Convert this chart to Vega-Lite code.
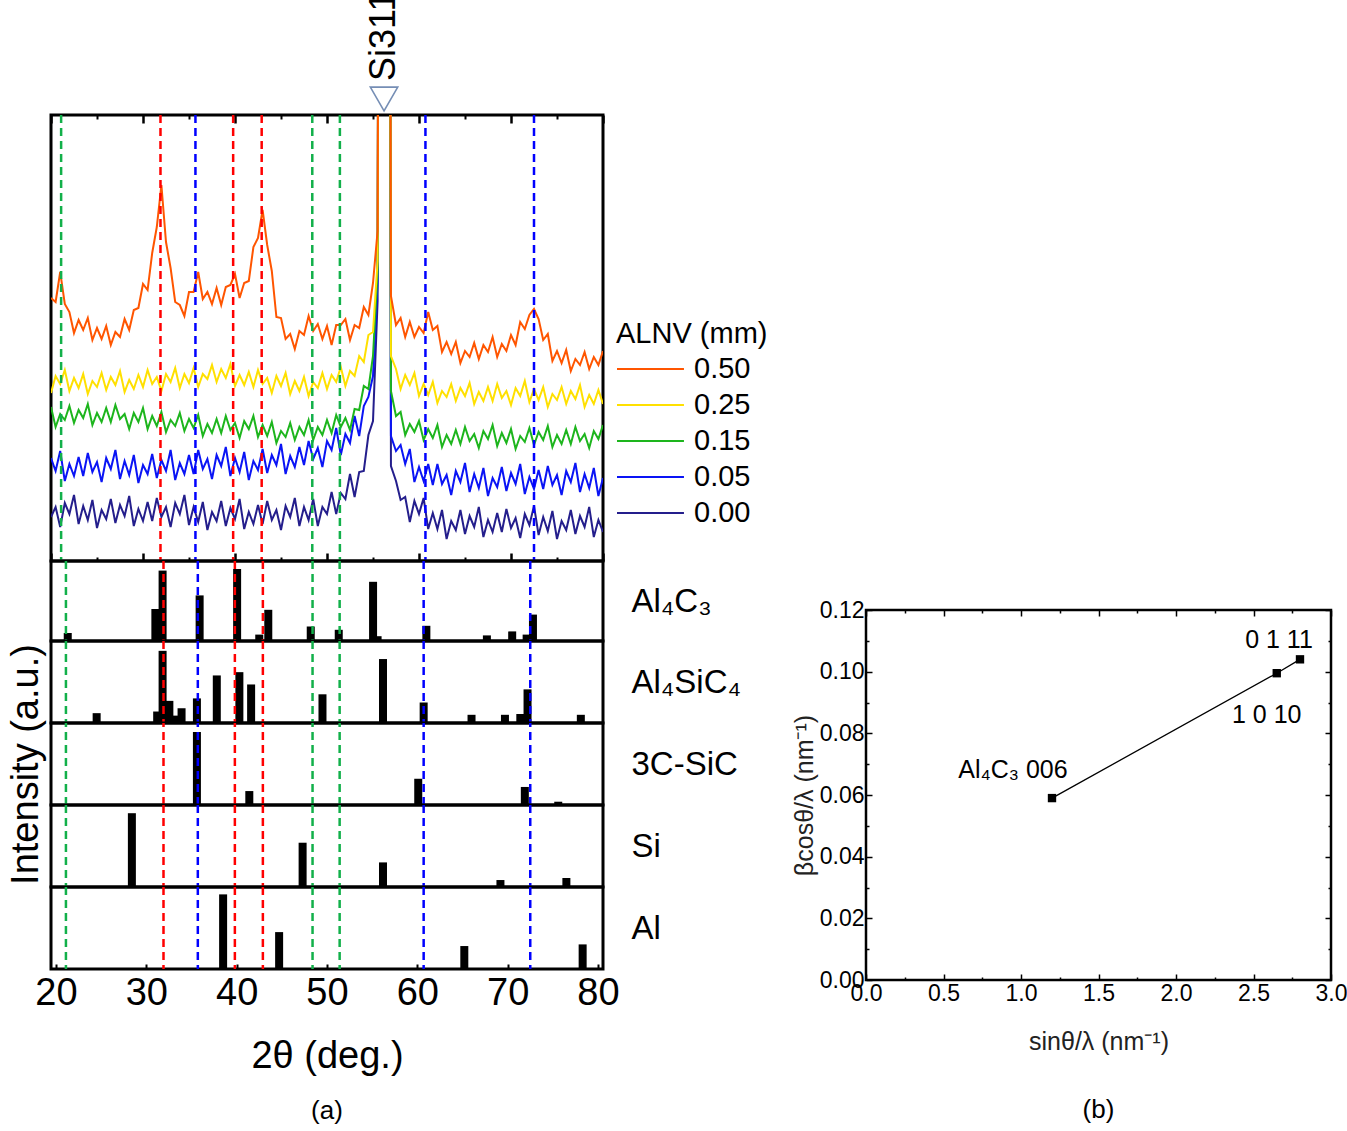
{
  "$schema": "https://vega.github.io/schema/vega-lite/v6.json",
  "padding": {"left": 5, "top": -10, "right": 0, "bottom": 0},
  "config": {
    "font": "Liberation Sans",
    "view": {"stroke": "black", "strokeWidth": 3},
    "axis": {"grid": false, "domain": false, "labelColor": "black", "titleColor": "black", "tickColor": "black", "titleFontWeight": "normal", "labelOverlap": false, "labelFlush": false},
    "title": {"fontWeight": "normal", "color": "black"}
  },
  "datasets": {
    "dash": [
      {"p": 21.1, "g": "g"}, {"p": 48.4, "g": "g"}, {"p": 51.4, "g": "g"},
      {"p": 31.9, "g": "r"}, {"p": 39.8, "g": "r"}, {"p": 42.9, "g": "r"},
      {"p": 35.7, "g": "b"}, {"p": 60.7, "g": "b"}, {"p": 72.5, "g": "b"}
    ],
    "bars": [
      {"ph": "Al4C3", "x": 21.3, "h": 0.10}, {"ph": "Al4C3", "x": 31.0, "h": 0.40}, {"ph": "Al4C3", "x": 31.8, "h": 0.88}, {"ph": "Al4C3", "x": 35.9, "h": 0.57}, {"ph": "Al4C3", "x": 40.05, "h": 0.90}, {"ph": "Al4C3", "x": 42.5, "h": 0.08}, {"ph": "Al4C3", "x": 43.5, "h": 0.39}, {"ph": "Al4C3", "x": 48.2, "h": 0.18}, {"ph": "Al4C3", "x": 51.3, "h": 0.14}, {"ph": "Al4C3", "x": 55.1, "h": 0.74}, {"ph": "Al4C3", "x": 55.6, "h": 0.06}, {"ph": "Al4C3", "x": 61.0, "h": 0.19}, {"ph": "Al4C3", "x": 67.7, "h": 0.07}, {"ph": "Al4C3", "x": 70.5, "h": 0.12}, {"ph": "Al4C3", "x": 72.1, "h": 0.08}, {"ph": "Al4C3", "x": 72.8, "h": 0.33},
      {"ph": "Al4SiC4", "x": 24.5, "h": 0.12}, {"ph": "Al4SiC4", "x": 31.2, "h": 0.14}, {"ph": "Al4SiC4", "x": 31.8, "h": 0.88}, {"ph": "Al4SiC4", "x": 32.55, "h": 0.27}, {"ph": "Al4SiC4", "x": 33.2, "h": 0.09}, {"ph": "Al4SiC4", "x": 33.9, "h": 0.18}, {"ph": "Al4SiC4", "x": 35.6, "h": 0.30}, {"ph": "Al4SiC4", "x": 37.8, "h": 0.58}, {"ph": "Al4SiC4", "x": 40.3, "h": 0.62}, {"ph": "Al4SiC4", "x": 41.6, "h": 0.47}, {"ph": "Al4SiC4", "x": 49.5, "h": 0.35}, {"ph": "Al4SiC4", "x": 56.2, "h": 0.78}, {"ph": "Al4SiC4", "x": 60.7, "h": 0.25}, {"ph": "Al4SiC4", "x": 66.0, "h": 0.10}, {"ph": "Al4SiC4", "x": 69.7, "h": 0.10}, {"ph": "Al4SiC4", "x": 71.4, "h": 0.11}, {"ph": "Al4SiC4", "x": 72.2, "h": 0.41}, {"ph": "Al4SiC4", "x": 78.1, "h": 0.10},
      {"ph": "3C-SiC", "x": 35.6, "h": 0.89}, {"ph": "3C-SiC", "x": 41.4, "h": 0.17}, {"ph": "3C-SiC", "x": 60.1, "h": 0.32}, {"ph": "3C-SiC", "x": 71.9, "h": 0.22}, {"ph": "3C-SiC", "x": 75.6, "h": 0.04},
      {"ph": "Si", "x": 28.4, "h": 0.90}, {"ph": "Si", "x": 47.3, "h": 0.54}, {"ph": "Si", "x": 56.2, "h": 0.30}, {"ph": "Si", "x": 69.2, "h": 0.085}, {"ph": "Si", "x": 76.5, "h": 0.11},
      {"ph": "Al", "x": 38.5, "h": 0.91}, {"ph": "Al", "x": 44.7, "h": 0.45}, {"ph": "Al", "x": 65.2, "h": 0.28}, {"ph": "Al", "x": 78.3, "h": 0.30}
    ],
    "wh": [
      {"x": 1.2, "y": 0.059, "lab": "Al₄C₃ 006"},
      {"x": 2.65, "y": 0.0995, "lab": "1 0 10"},
      {"x": 2.8, "y": 0.104, "lab": "0 1 11"}
    ],
    "xrd": [
{"s":"0.00","x":20,"y":44},{"s":"0.00","x":20.5,"y":54},{"s":"0.00","x":21,"y":34},{"s":"0.00","x":21.5,"y":58},{"s":"0.00","x":22,"y":47},{"s":"0.00","x":22.5,"y":66},{"s":"0.00","x":23,"y":37},{"s":"0.00","x":23.5,"y":55},{"s":"0.00","x":24,"y":41},{"s":"0.00","x":24.5,"y":61},{"s":"0.00","x":25,"y":33},{"s":"0.00","x":25.5,"y":51},{"s":"0.00","x":26,"y":42},{"s":"0.00","x":26.5,"y":62},{"s":"0.00","x":27,"y":38},{"s":"0.00","x":27.5,"y":56},{"s":"0.00","x":28,"y":45},{"s":"0.00","x":28.5,"y":65},{"s":"0.00","x":29,"y":35},{"s":"0.00","x":29.5,"y":52},{"s":"0.00","x":30,"y":40},{"s":"0.00","x":30.5,"y":59},{"s":"0.00","x":31,"y":40},{"s":"0.00","x":31.5,"y":63},{"s":"0.00","x":32,"y":44},{"s":"0.00","x":32.5,"y":54},{"s":"0.00","x":33,"y":34},{"s":"0.00","x":33.5,"y":58},{"s":"0.00","x":34,"y":47},{"s":"0.00","x":34.5,"y":66},{"s":"0.00","x":35,"y":36},{"s":"0.00","x":35.5,"y":54},{"s":"0.00","x":36,"y":39},{"s":"0.00","x":36.5,"y":59},{"s":"0.00","x":37,"y":31},{"s":"0.00","x":37.5,"y":49},{"s":"0.00","x":38,"y":40},{"s":"0.00","x":38.5,"y":60},{"s":"0.00","x":39,"y":35},{"s":"0.00","x":39.5,"y":53},{"s":"0.00","x":40,"y":42},{"s":"0.00","x":40.5,"y":62},{"s":"0.00","x":41,"y":32},{"s":"0.00","x":41.5,"y":49},{"s":"0.00","x":42,"y":37},{"s":"0.00","x":42.5,"y":56},{"s":"0.00","x":43,"y":37},{"s":"0.00","x":43.5,"y":60},{"s":"0.00","x":44,"y":41},{"s":"0.00","x":44.5,"y":51},{"s":"0.00","x":45,"y":31},{"s":"0.00","x":45.5,"y":55},{"s":"0.00","x":46,"y":44},{"s":"0.00","x":46.5,"y":63},{"s":"0.00","x":47,"y":35},{"s":"0.00","x":47.5,"y":54},{"s":"0.00","x":48,"y":41},{"s":"0.00","x":48.5,"y":62},{"s":"0.00","x":49,"y":35},{"s":"0.00","x":49.5,"y":54},{"s":"0.00","x":50,"y":47},{"s":"0.00","x":50.5,"y":69},{"s":"0.00","x":51,"y":47},{"s":"0.00","x":51.5,"y":68},{"s":"0.00","x":52,"y":62},{"s":"0.00","x":52.5,"y":87},{"s":"0.00","x":53,"y":64},{"s":"0.00","x":53.5,"y":89},{"s":"0.00","x":54,"y":90},{"s":"0.00","x":54.5,"y":126},{"s":"0.00","x":55,"y":140},{"s":"0.00","x":55.5,"y":260},{"s":"0.00","x":55.65,"y":900},{"s":"0.00","x":56.8,"y":900},{"s":"0.00","x":56.95,"y":95},{"s":"0.00","x":57.5,"y":80},{"s":"0.00","x":58,"y":61},{"s":"0.00","x":58.5,"y":64},{"s":"0.00","x":59,"y":39},{"s":"0.00","x":59.5,"y":60},{"s":"0.00","x":60,"y":47},{"s":"0.00","x":60.5,"y":63},{"s":"0.00","x":61,"y":32},{"s":"0.00","x":61.5,"y":48},{"s":"0.00","x":62,"y":32},{"s":"0.00","x":62.5,"y":51},{"s":"0.00","x":63,"y":22},{"s":"0.00","x":63.5,"y":40},{"s":"0.00","x":64,"y":31},{"s":"0.00","x":64.5,"y":51},{"s":"0.00","x":65,"y":27},{"s":"0.00","x":65.5,"y":45},{"s":"0.00","x":66,"y":34},{"s":"0.00","x":66.5,"y":54},{"s":"0.00","x":67,"y":24},{"s":"0.00","x":67.5,"y":41},{"s":"0.00","x":68,"y":29},{"s":"0.00","x":68.5,"y":48},{"s":"0.00","x":69,"y":29},{"s":"0.00","x":69.5,"y":52},{"s":"0.00","x":70,"y":33},{"s":"0.00","x":70.5,"y":43},{"s":"0.00","x":71,"y":23},{"s":"0.00","x":71.5,"y":47},{"s":"0.00","x":72,"y":36},{"s":"0.00","x":72.5,"y":55},{"s":"0.00","x":73,"y":26},{"s":"0.00","x":73.5,"y":44},{"s":"0.00","x":74,"y":30},{"s":"0.00","x":74.5,"y":50},{"s":"0.00","x":75,"y":22},{"s":"0.00","x":75.5,"y":40},{"s":"0.00","x":76,"y":31},{"s":"0.00","x":76.5,"y":51},{"s":"0.00","x":77,"y":27},{"s":"0.00","x":77.5,"y":45},{"s":"0.00","x":78,"y":34},{"s":"0.00","x":78.5,"y":54},{"s":"0.00","x":79,"y":24},{"s":"0.00","x":79.5,"y":41},{"s":"0.00","x":80,"y":29},
{"s":"0.05","x":20,"y":103},{"s":"0.05","x":20.5,"y":90},{"s":"0.05","x":21,"y":110},{"s":"0.05","x":21.5,"y":80},{"s":"0.05","x":22,"y":97},{"s":"0.05","x":22.5,"y":85},{"s":"0.05","x":23,"y":104},{"s":"0.05","x":23.5,"y":85},{"s":"0.05","x":24,"y":108},{"s":"0.05","x":24.5,"y":89},{"s":"0.05","x":25,"y":99},{"s":"0.05","x":25.5,"y":79},{"s":"0.05","x":26,"y":103},{"s":"0.05","x":26.5,"y":92},{"s":"0.05","x":27,"y":111},{"s":"0.05","x":27.5,"y":82},{"s":"0.05","x":28,"y":100},{"s":"0.05","x":28.5,"y":86},{"s":"0.05","x":29,"y":106},{"s":"0.05","x":29.5,"y":78},{"s":"0.05","x":30,"y":96},{"s":"0.05","x":30.5,"y":87},{"s":"0.05","x":31,"y":107},{"s":"0.05","x":31.5,"y":83},{"s":"0.05","x":32,"y":101},{"s":"0.05","x":32.5,"y":90},{"s":"0.05","x":33,"y":111},{"s":"0.05","x":33.5,"y":81},{"s":"0.05","x":34,"y":98},{"s":"0.05","x":34.5,"y":87},{"s":"0.05","x":35,"y":106},{"s":"0.05","x":35.5,"y":87},{"s":"0.05","x":36,"y":111},{"s":"0.05","x":36.5,"y":92},{"s":"0.05","x":37,"y":102},{"s":"0.05","x":37.5,"y":82},{"s":"0.05","x":38,"y":106},{"s":"0.05","x":38.5,"y":95},{"s":"0.05","x":39,"y":114},{"s":"0.05","x":39.5,"y":85},{"s":"0.05","x":40,"y":103},{"s":"0.05","x":40.5,"y":89},{"s":"0.05","x":41,"y":109},{"s":"0.05","x":41.5,"y":81},{"s":"0.05","x":42,"y":100},{"s":"0.05","x":42.5,"y":91},{"s":"0.05","x":43,"y":112},{"s":"0.05","x":43.5,"y":88},{"s":"0.05","x":44,"y":106},{"s":"0.05","x":44.5,"y":96},{"s":"0.05","x":45,"y":117},{"s":"0.05","x":45.5,"y":87},{"s":"0.05","x":46,"y":105},{"s":"0.05","x":46.5,"y":94},{"s":"0.05","x":47,"y":114},{"s":"0.05","x":47.5,"y":96},{"s":"0.05","x":48,"y":120},{"s":"0.05","x":48.5,"y":102},{"s":"0.05","x":49,"y":113},{"s":"0.05","x":49.5,"y":94},{"s":"0.05","x":50,"y":120},{"s":"0.05","x":50.5,"y":111},{"s":"0.05","x":51,"y":133},{"s":"0.05","x":51.5,"y":106},{"s":"0.05","x":52,"y":127},{"s":"0.05","x":52.5,"y":118},{"s":"0.05","x":53,"y":145},{"s":"0.05","x":53.5,"y":125},{"s":"0.05","x":54,"y":155},{"s":"0.05","x":54.5,"y":164},{"s":"0.05","x":55,"y":185},{"s":"0.05","x":55.5,"y":280},{"s":"0.05","x":55.65,"y":900},{"s":"0.05","x":56.8,"y":900},{"s":"0.05","x":56.95,"y":125},{"s":"0.05","x":57.5,"y":110},{"s":"0.05","x":58,"y":116},{"s":"0.05","x":58.5,"y":97},{"s":"0.05","x":59,"y":112},{"s":"0.05","x":59.5,"y":79},{"s":"0.05","x":60,"y":94},{"s":"0.05","x":60.5,"y":80},{"s":"0.05","x":61,"y":97},{"s":"0.05","x":61.5,"y":76},{"s":"0.05","x":62,"y":97},{"s":"0.05","x":62.5,"y":77},{"s":"0.05","x":63,"y":86},{"s":"0.05","x":63.5,"y":66},{"s":"0.05","x":64,"y":90},{"s":"0.05","x":64.5,"y":79},{"s":"0.05","x":65,"y":98},{"s":"0.05","x":65.5,"y":69},{"s":"0.05","x":66,"y":87},{"s":"0.05","x":66.5,"y":73},{"s":"0.05","x":67,"y":93},{"s":"0.05","x":67.5,"y":65},{"s":"0.05","x":68,"y":83},{"s":"0.05","x":68.5,"y":74},{"s":"0.05","x":69,"y":94},{"s":"0.05","x":69.5,"y":70},{"s":"0.05","x":70,"y":88},{"s":"0.05","x":70.5,"y":77},{"s":"0.05","x":71,"y":97},{"s":"0.05","x":71.5,"y":67},{"s":"0.05","x":72,"y":84},{"s":"0.05","x":72.5,"y":72},{"s":"0.05","x":73,"y":91},{"s":"0.05","x":73.5,"y":72},{"s":"0.05","x":74,"y":95},{"s":"0.05","x":74.5,"y":76},{"s":"0.05","x":75,"y":86},{"s":"0.05","x":75.5,"y":66},{"s":"0.05","x":76,"y":90},{"s":"0.05","x":76.5,"y":79},{"s":"0.05","x":77,"y":98},{"s":"0.05","x":77.5,"y":69},{"s":"0.05","x":78,"y":87},{"s":"0.05","x":78.5,"y":73},{"s":"0.05","x":79,"y":93},{"s":"0.05","x":79.5,"y":65},{"s":"0.05","x":80,"y":83},
{"s":"0.15","x":20,"y":154},{"s":"0.15","x":20.5,"y":134},{"s":"0.15","x":21,"y":147},{"s":"0.15","x":21.5,"y":141},{"s":"0.15","x":22,"y":155},{"s":"0.15","x":22.5,"y":138},{"s":"0.15","x":23,"y":151},{"s":"0.15","x":23.5,"y":143},{"s":"0.15","x":24,"y":157},{"s":"0.15","x":24.5,"y":136},{"s":"0.15","x":25,"y":148},{"s":"0.15","x":25.5,"y":139},{"s":"0.15","x":26,"y":153},{"s":"0.15","x":26.5,"y":139},{"s":"0.15","x":27,"y":156},{"s":"0.15","x":27.5,"y":142},{"s":"0.15","x":28,"y":147},{"s":"0.15","x":28.5,"y":132},{"s":"0.15","x":29,"y":148},{"s":"0.15","x":29.5,"y":139},{"s":"0.15","x":30,"y":153},{"s":"0.15","x":30.5,"y":132},{"s":"0.15","x":31,"y":145},{"s":"0.15","x":31.5,"y":135},{"s":"0.15","x":32,"y":149},{"s":"0.15","x":32.5,"y":129},{"s":"0.15","x":33,"y":141},{"s":"0.15","x":33.5,"y":135},{"s":"0.15","x":34,"y":148},{"s":"0.15","x":34.5,"y":130},{"s":"0.15","x":35,"y":142},{"s":"0.15","x":35.5,"y":133},{"s":"0.15","x":36,"y":146},{"s":"0.15","x":36.5,"y":125},{"s":"0.15","x":37,"y":137},{"s":"0.15","x":37.5,"y":128},{"s":"0.15","x":38,"y":142},{"s":"0.15","x":38.5,"y":128},{"s":"0.15","x":39,"y":145},{"s":"0.15","x":39.5,"y":131},{"s":"0.15","x":40,"y":138},{"s":"0.15","x":40.5,"y":123},{"s":"0.15","x":41,"y":140},{"s":"0.15","x":41.5,"y":132},{"s":"0.15","x":42,"y":145},{"s":"0.15","x":42.5,"y":124},{"s":"0.15","x":43,"y":136},{"s":"0.15","x":43.5,"y":125},{"s":"0.15","x":44,"y":139},{"s":"0.15","x":44.5,"y":118},{"s":"0.15","x":45,"y":130},{"s":"0.15","x":45.5,"y":124},{"s":"0.15","x":46,"y":138},{"s":"0.15","x":46.5,"y":121},{"s":"0.15","x":47,"y":134},{"s":"0.15","x":47.5,"y":126},{"s":"0.15","x":48,"y":141},{"s":"0.15","x":48.5,"y":121},{"s":"0.15","x":49,"y":134},{"s":"0.15","x":49.5,"y":126},{"s":"0.15","x":50,"y":141},{"s":"0.15","x":50.5,"y":128},{"s":"0.15","x":51,"y":146},{"s":"0.15","x":51.5,"y":134},{"s":"0.15","x":52,"y":143},{"s":"0.15","x":52.5,"y":131},{"s":"0.15","x":53,"y":152},{"s":"0.15","x":53.5,"y":151},{"s":"0.15","x":54,"y":175},{"s":"0.15","x":54.5,"y":172},{"s":"0.15","x":55,"y":205},{"s":"0.15","x":55.5,"y":290},{"s":"0.15","x":55.65,"y":900},{"s":"0.15","x":56.8,"y":900},{"s":"0.15","x":56.95,"y":170},{"s":"0.15","x":57.5,"y":145},{"s":"0.15","x":58,"y":149},{"s":"0.15","x":58.5,"y":126},{"s":"0.15","x":59,"y":137},{"s":"0.15","x":59.5,"y":129},{"s":"0.15","x":60,"y":140},{"s":"0.15","x":60.5,"y":121},{"s":"0.15","x":61,"y":132},{"s":"0.15","x":61.5,"y":123},{"s":"0.15","x":62,"y":136},{"s":"0.15","x":62.5,"y":114},{"s":"0.15","x":63,"y":126},{"s":"0.15","x":63.5,"y":117},{"s":"0.15","x":64,"y":131},{"s":"0.15","x":64.5,"y":117},{"s":"0.15","x":65,"y":134},{"s":"0.15","x":65.5,"y":120},{"s":"0.15","x":66,"y":127},{"s":"0.15","x":66.5,"y":113},{"s":"0.15","x":67,"y":130},{"s":"0.15","x":67.5,"y":122},{"s":"0.15","x":68,"y":136},{"s":"0.15","x":68.5,"y":115},{"s":"0.15","x":69,"y":128},{"s":"0.15","x":69.5,"y":118},{"s":"0.15","x":70,"y":132},{"s":"0.15","x":70.5,"y":112},{"s":"0.15","x":71,"y":125},{"s":"0.15","x":71.5,"y":119},{"s":"0.15","x":72,"y":133},{"s":"0.15","x":72.5,"y":116},{"s":"0.15","x":73,"y":129},{"s":"0.15","x":73.5,"y":121},{"s":"0.15","x":74,"y":135},{"s":"0.15","x":74.5,"y":114},{"s":"0.15","x":75,"y":126},{"s":"0.15","x":75.5,"y":117},{"s":"0.15","x":76,"y":131},{"s":"0.15","x":76.5,"y":117},{"s":"0.15","x":77,"y":134},{"s":"0.15","x":77.5,"y":120},{"s":"0.15","x":78,"y":127},{"s":"0.15","x":78.5,"y":113},{"s":"0.15","x":79,"y":130},{"s":"0.15","x":79.5,"y":122},{"s":"0.15","x":80,"y":136},
{"s":"0.25","x":20,"y":168},{"s":"0.25","x":20.5,"y":185},{"s":"0.25","x":21,"y":177},{"s":"0.25","x":21.5,"y":191},{"s":"0.25","x":22,"y":170},{"s":"0.25","x":22.5,"y":183},{"s":"0.25","x":23,"y":173},{"s":"0.25","x":23.5,"y":187},{"s":"0.25","x":24,"y":167},{"s":"0.25","x":24.5,"y":180},{"s":"0.25","x":25,"y":174},{"s":"0.25","x":25.5,"y":188},{"s":"0.25","x":26,"y":171},{"s":"0.25","x":26.5,"y":184},{"s":"0.25","x":27,"y":176},{"s":"0.25","x":27.5,"y":190},{"s":"0.25","x":28,"y":169},{"s":"0.25","x":28.5,"y":181},{"s":"0.25","x":29,"y":172},{"s":"0.25","x":29.5,"y":186},{"s":"0.25","x":30,"y":174},{"s":"0.25","x":30.5,"y":191},{"s":"0.25","x":31,"y":177},{"s":"0.25","x":31.5,"y":184},{"s":"0.25","x":32,"y":170},{"s":"0.25","x":32.5,"y":187},{"s":"0.25","x":33,"y":179},{"s":"0.25","x":33.5,"y":193},{"s":"0.25","x":34,"y":173},{"s":"0.25","x":34.5,"y":187},{"s":"0.25","x":35,"y":178},{"s":"0.25","x":35.5,"y":193},{"s":"0.25","x":36,"y":174},{"s":"0.25","x":36.5,"y":187},{"s":"0.25","x":37,"y":182},{"s":"0.25","x":37.5,"y":196},{"s":"0.25","x":38,"y":179},{"s":"0.25","x":38.5,"y":192},{"s":"0.25","x":39,"y":183},{"s":"0.25","x":39.5,"y":197},{"s":"0.25","x":40,"y":175},{"s":"0.25","x":40.5,"y":186},{"s":"0.25","x":41,"y":176},{"s":"0.25","x":41.5,"y":189},{"s":"0.25","x":42,"y":174},{"s":"0.25","x":42.5,"y":191},{"s":"0.25","x":43,"y":177},{"s":"0.25","x":43.5,"y":183},{"s":"0.25","x":44,"y":168},{"s":"0.25","x":44.5,"y":185},{"s":"0.25","x":45,"y":175},{"s":"0.25","x":45.5,"y":188},{"s":"0.25","x":46,"y":167},{"s":"0.25","x":46.5,"y":180},{"s":"0.25","x":47,"y":170},{"s":"0.25","x":47.5,"y":184},{"s":"0.25","x":48,"y":165},{"s":"0.25","x":48.5,"y":179},{"s":"0.25","x":49,"y":173},{"s":"0.25","x":49.5,"y":188},{"s":"0.25","x":50,"y":172},{"s":"0.25","x":50.5,"y":186},{"s":"0.25","x":51,"y":179},{"s":"0.25","x":51.5,"y":194},{"s":"0.25","x":52,"y":175},{"s":"0.25","x":52.5,"y":190},{"s":"0.25","x":53,"y":185},{"s":"0.25","x":53.5,"y":205},{"s":"0.25","x":54,"y":199},{"s":"0.25","x":54.5,"y":226},{"s":"0.25","x":55,"y":229},{"s":"0.25","x":55.5,"y":300},{"s":"0.25","x":55.65,"y":900},{"s":"0.25","x":56.8,"y":900},{"s":"0.25","x":56.95,"y":205},{"s":"0.25","x":57.5,"y":192},{"s":"0.25","x":58,"y":172},{"s":"0.25","x":58.5,"y":186},{"s":"0.25","x":59,"y":176},{"s":"0.25","x":59.5,"y":188},{"s":"0.25","x":60,"y":165},{"s":"0.25","x":60.5,"y":177},{"s":"0.25","x":61,"y":166},{"s":"0.25","x":61.5,"y":179},{"s":"0.25","x":62,"y":158},{"s":"0.25","x":62.5,"y":170},{"s":"0.25","x":63,"y":164},{"s":"0.25","x":63.5,"y":177},{"s":"0.25","x":64,"y":160},{"s":"0.25","x":64.5,"y":173},{"s":"0.25","x":65,"y":165},{"s":"0.25","x":65.5,"y":178},{"s":"0.25","x":66,"y":157},{"s":"0.25","x":66.5,"y":169},{"s":"0.25","x":67,"y":160},{"s":"0.25","x":67.5,"y":174},{"s":"0.25","x":68,"y":160},{"s":"0.25","x":68.5,"y":177},{"s":"0.25","x":69,"y":163},{"s":"0.25","x":69.5,"y":170},{"s":"0.25","x":70,"y":156},{"s":"0.25","x":70.5,"y":173},{"s":"0.25","x":71,"y":165},{"s":"0.25","x":71.5,"y":180},{"s":"0.25","x":72,"y":159},{"s":"0.25","x":72.5,"y":172},{"s":"0.25","x":73,"y":161},{"s":"0.25","x":73.5,"y":174},{"s":"0.25","x":74,"y":154},{"s":"0.25","x":74.5,"y":167},{"s":"0.25","x":75,"y":161},{"s":"0.25","x":75.5,"y":174},{"s":"0.25","x":76,"y":157},{"s":"0.25","x":76.5,"y":170},{"s":"0.25","x":77,"y":162},{"s":"0.25","x":77.5,"y":176},{"s":"0.25","x":78,"y":154},{"s":"0.25","x":78.5,"y":166},{"s":"0.25","x":79,"y":157},{"s":"0.25","x":79.5,"y":171},{"s":"0.25","x":80,"y":157},
{"s":"0.50","x":20,"y":263},{"s":"0.50","x":20.5,"y":259},{"s":"0.50","x":21,"y":289},{"s":"0.50","x":21.5,"y":257},{"s":"0.50","x":22,"y":249},{"s":"0.50","x":22.5,"y":228},{"s":"0.50","x":23,"y":241},{"s":"0.50","x":23.5,"y":231},{"s":"0.50","x":24,"y":243},{"s":"0.50","x":24.5,"y":221},{"s":"0.50","x":25,"y":233},{"s":"0.50","x":25.5,"y":222},{"s":"0.50","x":26,"y":235},{"s":"0.50","x":26.5,"y":216},{"s":"0.50","x":27,"y":229},{"s":"0.50","x":27.5,"y":224},{"s":"0.50","x":28,"y":242},{"s":"0.50","x":28.5,"y":231},{"s":"0.50","x":29,"y":251},{"s":"0.50","x":29.5,"y":253},{"s":"0.50","x":30,"y":277},{"s":"0.50","x":30.5,"y":271},{"s":"0.50","x":31,"y":308},{"s":"0.50","x":31.5,"y":334},{"s":"0.50","x":32,"y":376},{"s":"0.50","x":32.5,"y":319},{"s":"0.50","x":33,"y":293},{"s":"0.50","x":33.5,"y":259},{"s":"0.50","x":34,"y":256},{"s":"0.50","x":34.5,"y":245},{"s":"0.50","x":35,"y":269},{"s":"0.50","x":35.5,"y":269},{"s":"0.50","x":36,"y":289},{"s":"0.50","x":36.5,"y":262},{"s":"0.50","x":37,"y":269},{"s":"0.50","x":37.5,"y":257},{"s":"0.50","x":38,"y":273},{"s":"0.50","x":38.5,"y":256},{"s":"0.50","x":39,"y":274},{"s":"0.50","x":39.5,"y":276},{"s":"0.50","x":40,"y":287},{"s":"0.50","x":40.5,"y":263},{"s":"0.50","x":41,"y":278},{"s":"0.50","x":41.5,"y":280},{"s":"0.50","x":42,"y":314},{"s":"0.50","x":42.5,"y":323},{"s":"0.50","x":43,"y":351},{"s":"0.50","x":43.5,"y":316},{"s":"0.50","x":44,"y":290},{"s":"0.50","x":44.5,"y":244},{"s":"0.50","x":45,"y":243},{"s":"0.50","x":45.5,"y":222},{"s":"0.50","x":46,"y":227},{"s":"0.50","x":46.5,"y":212},{"s":"0.50","x":47,"y":230},{"s":"0.50","x":47.5,"y":226},{"s":"0.50","x":48,"y":245},{"s":"0.50","x":48.5,"y":230},{"s":"0.50","x":49,"y":237},{"s":"0.50","x":49.5,"y":222},{"s":"0.50","x":50,"y":235},{"s":"0.50","x":50.5,"y":216},{"s":"0.50","x":51,"y":236},{"s":"0.50","x":51.5,"y":236},{"s":"0.50","x":52,"y":242},{"s":"0.50","x":52.5,"y":221},{"s":"0.50","x":53,"y":236},{"s":"0.50","x":53.5,"y":233},{"s":"0.50","x":54,"y":254},{"s":"0.50","x":54.5,"y":246},{"s":"0.50","x":55,"y":278},{"s":"0.50","x":55.5,"y":330},{"s":"0.50","x":55.65,"y":900},{"s":"0.50","x":56.8,"y":900},{"s":"0.50","x":56.95,"y":265},{"s":"0.50","x":57.5,"y":236},{"s":"0.50","x":58,"y":243},{"s":"0.50","x":58.5,"y":224},{"s":"0.50","x":59,"y":239},{"s":"0.50","x":59.5,"y":224},{"s":"0.50","x":60,"y":234},{"s":"0.50","x":60.5,"y":228},{"s":"0.50","x":61,"y":249},{"s":"0.50","x":61.5,"y":231},{"s":"0.50","x":62,"y":235},{"s":"0.50","x":62.5,"y":209},{"s":"0.50","x":63,"y":219},{"s":"0.50","x":63.5,"y":207},{"s":"0.50","x":64,"y":219},{"s":"0.50","x":64.5,"y":198},{"s":"0.50","x":65,"y":210},{"s":"0.50","x":65.5,"y":204},{"s":"0.50","x":66,"y":218},{"s":"0.50","x":66.5,"y":202},{"s":"0.50","x":67,"y":216},{"s":"0.50","x":67.5,"y":209},{"s":"0.50","x":68,"y":224},{"s":"0.50","x":68.5,"y":204},{"s":"0.50","x":69,"y":217},{"s":"0.50","x":69.5,"y":210},{"s":"0.50","x":70,"y":226},{"s":"0.50","x":70.5,"y":216},{"s":"0.50","x":71,"y":239},{"s":"0.50","x":71.5,"y":232},{"s":"0.50","x":72,"y":246},{"s":"0.50","x":72.5,"y":252},{"s":"0.50","x":73,"y":242},{"s":"0.50","x":73.5,"y":221},{"s":"0.50","x":74,"y":227},{"s":"0.50","x":74.5,"y":200},{"s":"0.50","x":75,"y":210},{"s":"0.50","x":75.5,"y":198},{"s":"0.50","x":76,"y":211},{"s":"0.50","x":76.5,"y":190},{"s":"0.50","x":77,"y":202},{"s":"0.50","x":77.5,"y":196},{"s":"0.50","x":78,"y":209},{"s":"0.50","x":78.5,"y":192},{"s":"0.50","x":79,"y":204},{"s":"0.50","x":79.5,"y":196},{"s":"0.50","x":80,"y":210}
    ]
  },
  "spacing": 815,
  "bounds": "flush",
  "resolve": {"scale": {"color": "independent"}, "legend": {"color": "independent"}},
  "hconcat": [
    {
      "spacing": 0,
      "bounds": "flush",
      "resolve": {"scale": {"color": "independent"}, "legend": {"color": "independent"}},
      "vconcat": [
        {
          "width": 552, "height": 446,
          "resolve": {"axis": {"x": "independent"}},
          "layer": [
            {
              "data": {"name": "xrd"},
              "mark": {"type": "line", "clip": true, "strokeWidth": 2},
              "encoding": {
                "x": {"field": "x", "type": "quantitative", "scale": {"domain": [20, 80], "nice": false, "zero": false},
                      "axis": {"orient": "bottom", "values": [20, 30, 40, 50, 60, 70, 80], "labels": false, "tickSize": -8, "tickWidth": 2.5, "title": null}},
                "y": {"field": "y", "type": "quantitative", "scale": {"domain": [0, 446], "nice": false, "zero": false},
                      "axis": {"title": "Intensity (a.u.)", "labels": false, "ticks": false, "titleFontSize": 38, "titlePadding": 6}},
                "color": {"field": "s", "type": "nominal",
                          "scale": {"domain": ["0.50", "0.25", "0.15", "0.05", "0.00"], "range": ["#FF5500", "#FFE000", "#1DB51D", "#0A14F5", "#241E8C"]},
                          "legend": {"orient": "none", "legendX": 565, "legendY": 205, "title": "ALNV (mm)", "titleFontSize": 29, "titleFontWeight": "normal", "titleColor": "black", "labelFontSize": 29, "labelColor": "black", "symbolType": "M-1,0H2.72", "symbolSize": 1296, "symbolStrokeWidth": 2, "symbolFillColor": "transparent", "labelOffset": 40, "rowPadding": 2, "titlePadding": 1, "padding": 0}}
              }
            },
            {
              "data": {"name": "dash"},
              "mark": {"type": "rule", "strokeDash": [8, 5], "strokeWidth": 2.5},
              "encoding": {
                "x": {"field": "p", "type": "quantitative", "axis": {"orient": "top", "values": [20, 30, 40, 50, 60, 70, 80], "labels": false, "tickSize": -8, "tickWidth": 2.5, "title": null}},
                "stroke": {"field": "g", "type": "nominal", "scale": {"domain": ["g", "r", "b"], "range": ["#12B04A", "#FF0000", "#0000FF"]}, "legend": null}
              }
            },
            {
              "data": {"values": [{"x": 56.2}]},
              "mark": {"type": "point", "shape": "triangle-down", "size": 750, "filled": false, "stroke": "#3C5F96", "strokeWidth": 1.6, "clip": false},
              "encoding": {
                "x": {"field": "x", "type": "quantitative", "axis": {"orient": "bottom", "values": [25, 35, 45, 55, 65, 75], "labels": false, "tickSize": -4, "tickWidth": 2, "title": null}},
                "y": {"datum": 462, "axis": null}
              }
            },
            {
              "data": {"values": [{"x": 56.2, "t": "Si311"}]},
              "mark": {"type": "text", "angle": 270, "align": "left", "baseline": "middle", "fontSize": 36, "clip": false},
              "encoding": {
                "x": {"field": "x", "type": "quantitative", "axis": {"orient": "top", "values": [25, 35, 45, 55, 65, 75], "labels": false, "tickSize": -4, "tickWidth": 2, "title": null}},
                "y": {"datum": 480, "axis": null},
                "text": {"field": "t"}
              }
            }
          ]
        },
        {
          "width": 552, "height": 80,
          "resolve": {"axis": {"y": "independent"}},
          "layer": [
            {
              "data": {"name": "bars"},
              "transform": [{"filter": "datum.ph === 'Al4C3'"}],
              "mark": {"type": "bar", "size": 8, "color": "black"},
              "encoding": {
                "x": {"field": "x", "type": "quantitative", "scale": {"domain": [20, 80], "nice": false, "zero": false}, "axis": null},
                "y": {"field": "h", "type": "quantitative", "scale": {"domain": [0, 1], "nice": false}, "axis": {"orient": "right", "title": "Al₄C₃", "labels": false, "ticks": false, "titleAngle": 0, "titleAlign": "left", "titleBaseline": "middle", "titleFontSize": 33, "titlePadding": 28}}
              }
            },
            {
              "data": {"name": "dash"},
              "mark": {"type": "rule", "strokeDash": [8, 5], "strokeWidth": 2.5},
              "encoding": {
                "x": {"field": "p", "type": "quantitative", "axis": null},
                "stroke": {"field": "g", "type": "nominal", "scale": {"domain": ["g", "r", "b"], "range": ["#12B04A", "#FF0000", "#0000FF"]}, "legend": null}
              }
            }
          ]
        },
        {
          "width": 552, "height": 82,
          "resolve": {"axis": {"y": "independent"}},
          "layer": [
            {
              "data": {"name": "bars"},
              "transform": [{"filter": "datum.ph === 'Al4SiC4'"}],
              "mark": {"type": "bar", "size": 8, "color": "black"},
              "encoding": {
                "x": {"field": "x", "type": "quantitative", "scale": {"domain": [20, 80], "nice": false, "zero": false}, "axis": null},
                "y": {"field": "h", "type": "quantitative", "scale": {"domain": [0, 1], "nice": false}, "axis": {"orient": "right", "title": "Al₄SiC₄", "labels": false, "ticks": false, "titleAngle": 0, "titleAlign": "left", "titleBaseline": "middle", "titleFontSize": 33, "titlePadding": 28}}
              }
            },
            {
              "data": {"name": "dash"},
              "mark": {"type": "rule", "strokeDash": [8, 5], "strokeWidth": 2.5},
              "encoding": {
                "x": {"field": "p", "type": "quantitative", "axis": null},
                "stroke": {"field": "g", "type": "nominal", "scale": {"domain": ["g", "r", "b"], "range": ["#12B04A", "#FF0000", "#0000FF"]}, "legend": null}
              }
            }
          ]
        },
        {
          "width": 552, "height": 82,
          "resolve": {"axis": {"y": "independent"}},
          "layer": [
            {
              "data": {"name": "bars"},
              "transform": [{"filter": "datum.ph === '3C-SiC'"}],
              "mark": {"type": "bar", "size": 8, "color": "black"},
              "encoding": {
                "x": {"field": "x", "type": "quantitative", "scale": {"domain": [20, 80], "nice": false, "zero": false}, "axis": null},
                "y": {"field": "h", "type": "quantitative", "scale": {"domain": [0, 1], "nice": false}, "axis": {"orient": "right", "title": "3C-SiC", "labels": false, "ticks": false, "titleAngle": 0, "titleAlign": "left", "titleBaseline": "middle", "titleFontSize": 33, "titlePadding": 28}}
              }
            },
            {
              "data": {"name": "dash"},
              "mark": {"type": "rule", "strokeDash": [8, 5], "strokeWidth": 2.5},
              "encoding": {
                "x": {"field": "p", "type": "quantitative", "axis": null},
                "y": {"datum": 0, "axis": {"title": "Intensity (a.u.)", "labels": false, "ticks": false, "titleFontSize": 38, "titlePadding": 6}},
                "y2": {"datum": 1},
                "stroke": {"field": "g", "type": "nominal", "scale": {"domain": ["g", "r", "b"], "range": ["#12B04A", "#FF0000", "#0000FF"]}, "legend": null}
              }
            }
          ]
        },
        {
          "width": 552, "height": 82,
          "resolve": {"axis": {"y": "independent"}},
          "layer": [
            {
              "data": {"name": "bars"},
              "transform": [{"filter": "datum.ph === 'Si'"}],
              "mark": {"type": "bar", "size": 8, "color": "black"},
              "encoding": {
                "x": {"field": "x", "type": "quantitative", "scale": {"domain": [20, 80], "nice": false, "zero": false}, "axis": null},
                "y": {"field": "h", "type": "quantitative", "scale": {"domain": [0, 1], "nice": false}, "axis": {"orient": "right", "title": "Si", "labels": false, "ticks": false, "titleAngle": 0, "titleAlign": "left", "titleBaseline": "middle", "titleFontSize": 33, "titlePadding": 28}}
              }
            },
            {
              "data": {"name": "dash"},
              "mark": {"type": "rule", "strokeDash": [8, 5], "strokeWidth": 2.5},
              "encoding": {
                "x": {"field": "p", "type": "quantitative", "axis": null},
                "stroke": {"field": "g", "type": "nominal", "scale": {"domain": ["g", "r", "b"], "range": ["#12B04A", "#FF0000", "#0000FF"]}, "legend": null}
              }
            }
          ]
        },
        {
          "width": 552, "height": 82,
          "title": {"text": "(a)", "orient": "bottom", "fontSize": 26, "fontWeight": "normal", "offset": 23},
          "resolve": {"axis": {"y": "independent"}},
          "layer": [
            {
              "data": {"name": "bars"},
              "transform": [{"filter": "datum.ph === 'Al'"}],
              "mark": {"type": "bar", "size": 8, "color": "black"},
              "encoding": {
                "x": {"field": "x", "type": "quantitative", "scale": {"domain": [20, 80], "nice": false, "zero": false},
                      "axis": {"orient": "bottom", "values": [20, 30, 40, 50, 60, 70, 80], "tickSize": -5, "tickWidth": 2, "labelFontSize": 38, "labelPadding": 10, "title": "2θ (deg.)", "titleFontSize": 38, "titlePadding": 25}},
                "y": {"field": "h", "type": "quantitative", "scale": {"domain": [0, 1], "nice": false}, "axis": {"orient": "right", "title": "Al", "labels": false, "ticks": false, "titleAngle": 0, "titleAlign": "left", "titleBaseline": "middle", "titleFontSize": 33, "titlePadding": 28}}
              }
            },
            {
              "data": {"name": "dash"},
              "mark": {"type": "rule", "strokeDash": [8, 5], "strokeWidth": 2.5},
              "encoding": {
                "x": {"field": "p", "type": "quantitative"},
                "stroke": {"field": "g", "type": "nominal", "scale": {"domain": ["g", "r", "b"], "range": ["#12B04A", "#FF0000", "#0000FF"]}, "legend": null}
              }
            }
          ]
        }
      ]
    },
    {
      "spacing": 0,
      "bounds": "flush",
      "vconcat": [
        {
          "width": 465, "height": 495,
          "view": {"stroke": "transparent"},
          "data": {"values": [{}]},
          "mark": {"type": "point", "opacity": 0},
          "encoding": {}
        },
        {
          "width": 465, "height": 370,
          "view": {"stroke": "black", "strokeWidth": 2.5},
          "title": {"text": "(b)", "orient": "bottom", "fontSize": 26, "fontWeight": "normal", "offset": 43},
          "data": {"name": "wh"},
          "resolve": {"axis": {"x": "independent", "y": "independent"}},
          "layer": [
            {
              "mark": {"type": "line", "color": "black", "strokeWidth": 1.3},
              "encoding": {
                "x": {"field": "x", "type": "quantitative", "scale": {"domain": [0, 3], "nice": false, "zero": false},
                      "axis": {"orient": "bottom", "values": [0, 0.5, 1, 1.5, 2, 2.5, 3], "format": ".1f", "tickSize": -6, "tickWidth": 1.5, "labelFontSize": 23, "labelPadding": 8, "title": "sinθ/λ (nm⁻¹)", "titleFontSize": 25, "titleColor": "#222", "titlePadding": 24}},
                "y": {"field": "y", "type": "quantitative", "scale": {"domain": [0, 0.12], "nice": false},
                      "axis": {"orient": "left", "values": [0, 0.02, 0.04, 0.06, 0.08, 0.1, 0.12], "format": ".2f", "tickSize": -6, "tickWidth": 1.5, "labelFontSize": 23, "labelPadding": 8, "title": "βcosθ/λ (nm⁻¹)", "titleFontSize": 25, "titleColor": "#222", "titlePadding": 2}}
              }
            },
            {
              "mark": {"type": "square", "color": "black", "size": 70, "opacity": 1},
              "encoding": {
                "x": {"field": "x", "type": "quantitative", "axis": {"orient": "top", "values": [0, 0.5, 1, 1.5, 2, 2.5, 3], "labels": false, "tickSize": -6, "tickWidth": 1.5, "title": null}},
                "y": {"field": "y", "type": "quantitative", "axis": {"orient": "right", "values": [0, 0.02, 0.04, 0.06, 0.08, 0.1, 0.12], "labels": false, "tickSize": -6, "tickWidth": 1.5, "title": null}}
              }
            },
            {
              "transform": [{"filter": "datum.lab === '0 1 11'"}],
              "mark": {"type": "text", "fontSize": 25, "dx": -21, "dy": -19, "align": "center", "baseline": "middle"},
              "encoding": {
                "x": {"field": "x", "type": "quantitative", "axis": {"orient": "bottom", "values": [0.25, 0.75, 1.25, 1.75, 2.25, 2.75], "labels": false, "tickSize": -3, "tickWidth": 1.5, "title": null}},
                "y": {"field": "y", "type": "quantitative", "axis": {"orient": "left", "values": [0.01, 0.03, 0.05, 0.07, 0.09, 0.11], "labels": false, "tickSize": -3, "tickWidth": 1.5, "title": null}},
                "text": {"field": "lab"}
              }
            },
            {
              "transform": [{"filter": "datum.lab === '1 0 10'"}],
              "mark": {"type": "text", "fontSize": 25, "dx": -10, "dy": 42, "align": "center", "baseline": "middle"},
              "encoding": {
                "x": {"field": "x", "type": "quantitative", "axis": {"orient": "top", "values": [0.25, 0.75, 1.25, 1.75, 2.25, 2.75], "labels": false, "tickSize": -3, "tickWidth": 1.5, "title": null}},
                "y": {"field": "y", "type": "quantitative", "axis": {"orient": "right", "values": [0.01, 0.03, 0.05, 0.07, 0.09, 0.11], "labels": false, "tickSize": -3, "tickWidth": 1.5, "title": null}},
                "text": {"field": "lab"}
              }
            },
            {
              "transform": [{"filter": "datum.lab === 'Al₄C₃ 006'"}],
              "mark": {"type": "text", "fontSize": 25, "dx": -39, "dy": -28, "align": "center", "baseline": "middle"},
              "encoding": {
                "x": {"field": "x", "type": "quantitative", "axis": null},
                "y": {"field": "y", "type": "quantitative", "axis": null},
                "text": {"field": "lab"}
              }
            }
          ]
        }
      ]
    }
  ]
}
